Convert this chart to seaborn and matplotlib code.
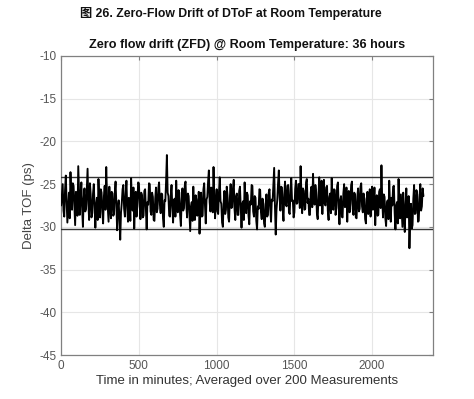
import numpy as np
import pandas as pd
import matplotlib
matplotlib.use("Agg")
import matplotlib.pyplot as plt
import seaborn as sns

step_min = 5
zfd_ps = [
    -27.5, -26.2, -25.0, -28.1, -28.8, -25.7, -24.0, -27.0, -29.5, -27.8, -26.0, -29.0, -23.6, -26.5, -28.0, -24.9, -25.2, -27.6, -29.8, -25.9,
    -26.4, -28.7, -22.9, -25.8, -28.6, -26.3, -24.8, -27.9, -30.0, -26.7, -25.5, -28.2, -27.9, -25.4, -23.2, -27.3, -29.2, -24.9, -26.2, -28.9,
    -28.4, -26.1, -25.0, -27.7, -30.1, -27.4, -26.6, -29.2, -24.4, -26.9, -28.9, -25.6, -26.0, -28.3, -29.6, -26.4, -25.2, -28.0, -23.0, -26.3,
    -27.8, -29.4, -25.3, -27.5, -29.0, -25.9, -26.1, -28.7, -28.5, -26.0, -24.7, -27.3, -30.4, -27.7, -26.9, -29.1, -31.5, -28.3, -27.2, -25.6,
    -25.1, -27.9, -28.8, -26.2, -24.6, -27.8, -29.4, -26.6, -26.8, -29.3, -24.3, -26.9, -28.1, -25.4, -30.2, -27.5, -25.9, -28.8, -27.6, -24.8,
    -24.9, -27.2, -29.1, -26.0, -26.3, -28.9, -28.7, -25.8, -25.6, -27.9, -30.3, -27.1, -27.4, -24.9, -25.0, -28.2, -28.6, -26.0, -26.5, -29.2,
    -29.3, -26.7, -25.4, -28.3, -27.9, -25.5, -24.8, -27.4, -28.4, -26.1, -26.2, -29.0, -30.0, -26.9, -27.0, -24.6, -21.6, -26.0, -26.4, -28.7,
    -28.8, -26.3, -25.1, -27.7, -29.5, -26.9, -26.7, -28.8, -24.6, -27.2, -28.3, -25.7, -26.0, -28.6, -29.9, -27.0, -25.5, -28.1, -27.8, -25.2,
    -24.7, -27.5, -28.9, -26.1, -26.4, -28.4, -30.5, -27.6, -27.1, -29.3, -25.3, -27.9, -29.2, -26.3, -26.8, -28.7, -28.1, -25.9, -30.8, -27.4,
    -26.0, -28.8, -28.7, -25.6, -24.9, -27.5, -29.6, -26.8, -26.5, -24.7, -23.4, -27.1, -28.2, -25.4, -25.7, -28.3, -23.0, -26.6, -29.0, -26.9,
    -25.6, -28.2, -28.5, -25.9, -24.2, -27.0, -27.3, -29.5, -30.0, -27.2, -25.8, -28.5, -28.0, -25.3, -26.3, -28.9, -29.4, -26.6, -25.0, -27.8,
    -27.7, -25.5, -24.5, -27.9, -29.2, -26.4, -26.1, -28.6, -28.6, -25.8, -25.3, -27.6, -30.1, -27.3, -27.0, -29.2, -24.8, -27.1, -28.4, -26.0,
    -26.3, -28.7, -29.7, -27.0, -27.4, -25.1, -25.2, -28.2, -28.8, -26.4, -26.6, -29.3, -30.3, -27.6, -27.9, -25.6, -25.7, -28.3, -29.1, -26.7,
    -27.3, -29.6, -30.0, -27.4, -26.2, -28.8, -28.6, -26.0, -25.6, -27.9, -29.4, -26.8, -27.0, -25.0, -23.1, -27.6, -30.9, -28.0, -26.8, -24.9,
    -23.4, -26.5, -28.1, -25.3, -25.4, -28.0, -29.3, -26.2, -24.7, -27.4, -27.6, -25.2, -25.1, -28.3, -28.5, -25.7, -24.3, -27.0, -26.9, -28.9,
    -28.3, -25.6, -24.6, -27.3, -27.2, -25.0, -25.0, -27.8, -22.9, -26.1, -28.4, -25.5, -25.8, -28.0, -27.9, -24.8, -24.4, -27.2, -26.7, -28.6,
    -28.6, -26.0, -25.3, -27.7, -23.8, -26.4, -27.4, -25.1, -25.9, -28.5, -29.1, -26.3, -24.2, -27.5, -26.8, -24.6, -28.5, -26.1, -24.5, -27.3,
    -27.5, -25.4, -25.2, -28.1, -29.2, -26.5, -26.1, -28.4, -24.3, -27.0, -28.0, -25.6, -25.7, -28.6, -27.8, -25.2, -24.8, -27.6, -29.7, -26.9,
    -26.4, -28.8, -28.9, -26.1, -25.0, -27.7, -27.6, -25.4, -29.4, -26.6, -25.8, -28.3, -27.3, -25.1, -24.7, -27.9, -28.6, -26.0, -26.2, -28.9,
    -29.0, -26.4, -25.5, -28.2, -27.9, -25.3, -24.9, -27.6, -28.3, -26.1, -26.7, -29.1, -29.6, -26.8, -25.9, -28.5, -27.4, -25.6, -28.8, -26.3,
    -25.3, -28.0, -27.7, -25.4, -29.8, -27.1, -26.3, -28.7, -28.6, -25.9, -25.6, -27.8, -22.8, -26.9, -28.9, -26.2, -26.5, -29.0, -29.9, -27.2,
    -26.9, -29.1, -24.6, -27.4, -29.4, -26.6, -27.5, -25.3, -25.2, -28.4, -30.3, -27.5, -27.1, -29.6, -24.4, -27.8, -29.0, -26.2, -28.2, -30.0,
    -26.0, -28.6, -30.6, -27.3, -25.5, -28.9, -28.7, -26.4, -32.5, -29.1, -27.3, -30.2, -29.8, -26.7, -25.1, -28.5, -28.4, -25.7, -26.2, -29.4,
    -29.3, -26.5, -25.0, -28.1, -27.6, -25.5, -26.4,
]
time_min = [i * step_min for i in range(len(zfd_ps))]
limit_lines = [-24.2, -30.2]
x_ticks = [0, 500, 1000, 1500, 2000]
y_ticks = [-45, -40, -35, -30, -25, -20, -15, -10]

sns.set_style("white")
plt.rcParams['font.family'] = ['Liberation Sans', 'Noto Sans CJK SC', 'DejaVu Sans']
plt.rcParams['axes.unicode_minus'] = False

df = pd.DataFrame({"t": time_min, "v": zfd_ps})
fig = plt.figure(figsize=(4.74, 3.99), dpi=100)
ax = fig.add_axes([0.129, 0.110, 0.784, 0.750])

for yv in limit_lines:
    ax.axhline(yv, color="#333333", lw=1.0, zorder=3)
sns.lineplot(data=df, x="t", y="v", ax=ax, color="black", lw=1.35, zorder=4)

ax.set_xlim(0, 2390)
ax.set_ylim(-45, -10)
ax.set_xticks(x_ticks)
ax.set_yticks(y_ticks)
ax.grid(True, color="#e6e6e6", lw=0.8)
ax.set_axisbelow(True)
for s in ax.spines.values():
    s.set_color("#808080")
    s.set_linewidth(0.9)
ax.tick_params(direction="in", length=3, colors="#808080", labelcolor="#555555",
               labelsize=8.5, top=True, right=True)
ax.set_xlabel("Time in minutes; Averaged over 200 Measurements", fontsize=9.5, color="#333333", labelpad=2)
ax.set_ylabel("Delta TOF (ps)", fontsize=9.5, color="#444444", labelpad=3)
ax.set_title("Zero flow drift (ZFD) @ Room Temperature: 36 hours", fontsize=9.1,
             fontweight="bold", color="#111111", pad=6)
fig.text(0.487, 0.965, "图 26. Zero-Flow Drift of DToF at Room Temperature", ha="center",
         va="center", fontsize=8.8, fontweight="bold", color="#111111")

fig.savefig("out.png", dpi=100)
